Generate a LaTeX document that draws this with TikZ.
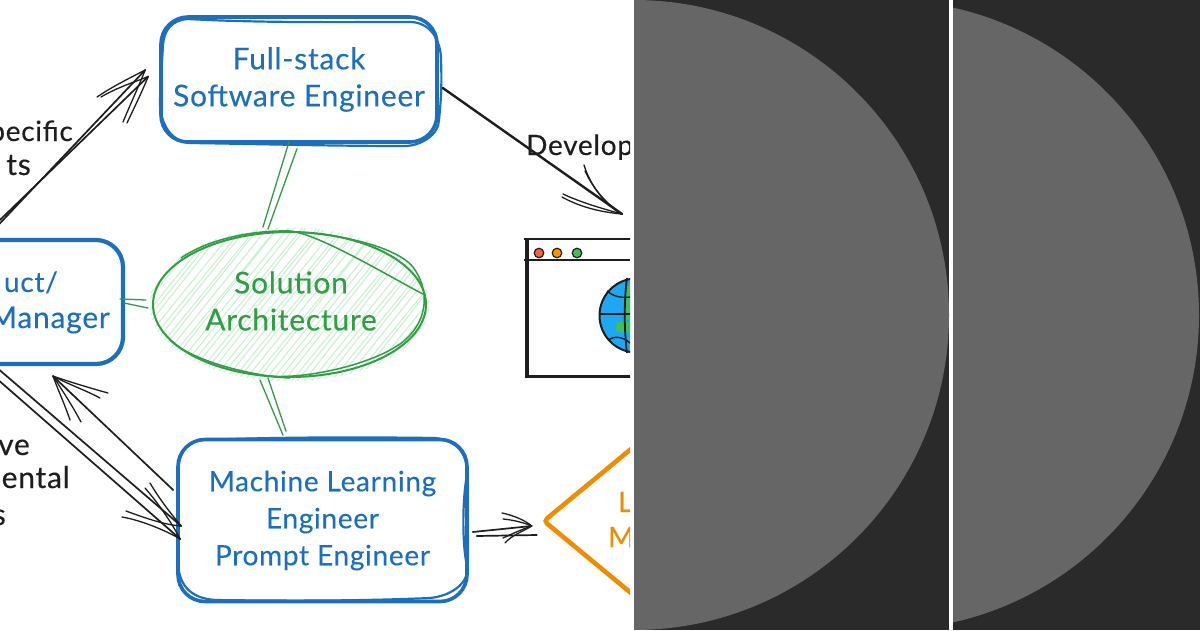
\documentclass[tikz,border=0pt]{standalone}
\usepackage{fontspec}
\setmainfont{Lato}[LetterSpace=2.5,FakeBold=0.25]
\usetikzlibrary{shapes.geometric}
\definecolor{ebl}{HTML}{1C6FBF}
\definecolor{egr}{HTML}{2F9E44}
\definecolor{eor}{HTML}{F08C00}
\definecolor{eink}{HTML}{1E1E1E}
\definecolor{hatch}{HTML}{C6F0CC}
\definecolor{paneldark}{HTML}{2A2A2A}
\definecolor{panelgray}{HTML}{666666}
\definecolor{globeblue}{HTML}{1CA8F5}
\definecolor{globegreen}{HTML}{40C057}
\tikzset{
  x=1pt,y=-1pt,
  handtext/.style={font=\fontsize{28}{37}\selectfont,inner sep=0pt},
  bigtext/.style={font=\fontsize{30}{37}\selectfont,inner sep=0pt},
  bluebox/.style={draw=ebl,line width=3.6pt,rounded corners=27pt,inner sep=0pt,text=ebl,align=center,handtext},
  bluesketch/.style={draw=ebl,line width=2.2pt},
  greensketch/.style={draw=egr,line width=1.5pt},
  ink/.style={draw=eink,line width=1.7pt,line cap=round},
  barb/.style={draw=eink,line width=1.3pt,line cap=round},
  link/.style={draw=egr,line width=1.3pt,line cap=round},
  lbl/.style={bigtext,text=eink,anchor=base east},
  dotmark/.style={draw=eink,line width=1.2pt},
}
\begin{document}
\begin{tikzpicture}
\useasboundingbox (0,0) rectangle (1200,630);
\fill[white] (0,0) rectangle (1200,630);
\begin{scope}
\clip (0,0) rectangle (630,630);
% hachure
\begin{scope}
\clip (289.5,304.5) ellipse [x radius=140,y radius=77];
\foreach \i/\j in {60/0,67/3,73/-2,80/2,86/0,93/-3,100/1,106/3,113/-1,120/2,126/-2,133/0,140/3,146/-3,153/1,160/0,166/2,173/-2,180/3,186/0,193/-3,200/1,206/3,213/-1,220/2,226/-2,233/0,240/3,246/-3,253/1,260/0,266/2,273/-2,280/3,286/0,293/-3,300/1,306/3,313/-1,320/2,326/-2,333/0,340/3,346/-3,353/1,360/0,366/2,373/-2,380/3,386/0,393/-3,400/1,406/3,413/-1,420/2,426/-2}{
  \draw[hatch,line width=1pt] (\i,395) -- ({\i+145+\j},215);
}
\end{scope}
% nodes
\node[bluebox,bigtext,minimum width=276pt,minimum height=125pt] (fs) at (299,79.5) {Full-stack\\Software Engineer};
\node[bluebox,draw,minimum width=223pt,minimum height=124pt,line width=4.2pt] (pm) at (11.5,302) {};
\node[ellipse,draw=egr,line width=2pt,minimum width=273pt,minimum height=145pt,inner sep=0pt] (sol) at (289.5,304.5) {};
\node[text=egr,align=center,bigtext] (solt) at (291,301) {Solution\\Architecture};
\node[bluebox,minimum width=289pt,minimum height=162pt] (ml) at (322.5,520.5) {Machine Learning\\Engineer\\Prompt Engineer};
\node[diamond,draw=eor,line width=4.6pt,rounded corners=4pt,minimum width=314pt,minimum height=260pt,inner sep=0pt] (llm) at (700,521) {};
\node[draw=eink,line width=2pt,minimum width=214pt,minimum height=138pt,inner sep=0pt] (win) at (633,307.5) {};
% second sketch strokes
\draw[bluesketch] (188,19) .. controls (260,23) and (340,22) .. (410,22) .. controls (430,22) and (441,40) .. (441,60) .. controls (442,85) and (441,100) .. (439,120) .. controls (439,135) and (420,146) .. (405,146) .. controls (330,146) and (260,144) .. (190,143) .. controls (172,142) and (161,125) .. (160,105) .. controls (160,85) and (162,65) .. (163,45) .. controls (164,30) and (172,20) .. (188,19);
\draw[bluesketch] (200,440) .. controls (280,437) and (360,437) .. (435,438) .. controls (455,440) and (468,452) .. (467,475) .. controls (462,500) and (462,550) .. (468,570) .. controls (466,585) and (450,596) .. (430,598) .. controls (360,601) and (290,601) .. (215,600) .. controls (190,598) and (178,585) .. (178,560) .. controls (177,530) and (177,500) .. (178,475) .. controls (178,455) and (185,443) .. (200,440);
\draw[greensketch] (181,258) .. controls (210,238) and (255,230) .. (290,231) .. controls (320,234) and (395,280) .. (425,295);
\draw[greensketch] (288,232) .. controls (330,232) and (395,245) .. (413,267) .. controls (430,290) and (428,320) .. (405,340) .. controls (380,362) and (310,380) .. (265,376);
\draw[greensketch] (290,378) .. controls (250,376) and (190,360) .. (170,340);
% browser details
\draw[eink,line width=1.4pt] (524,239) -- (630,239);
\draw[eink,line width=1.6pt] (524,260) -- (630,260);
\draw[eink,line width=1.4pt] (528,238) -- (528,376);
\draw[eink,line width=2.6pt] (525,376) -- (630,376);
\node[circle,dotmark,fill=red!55!orange!80!white,minimum size=9.5pt,inner sep=0pt] (d1) at (539,253) {};
\node[circle,dotmark,fill=orange!85!yellow,minimum size=9.5pt,inner sep=0pt] (d2) at (557,253) {};
\node[circle,dotmark,fill=globegreen,minimum size=9.5pt,inner sep=0pt] (d3) at (577,253) {};
% globe
\fill[globeblue] (636.5,315.5) circle (37);
\fill[globegreen,rounded corners=3pt] (616,322) rectangle (640,332);
\fill[globegreen] (626,286) rectangle (640,320);
\draw[eink,line width=2pt] (636.5,315.5) circle (37);
\draw[eink,line width=1.8pt] (600,314) -- (630,314);
\draw[eink,line width=1.8pt] (627,278) .. controls (624,300) and (624,330) .. (627,353);
\draw[eink,line width=1.4pt] (607,291) .. controls (614,297) and (622,298) .. (630,297);
\draw[eink,line width=1.4pt] (608,340) .. controls (614,336) and (622,336) .. (630,343);
% labels
\node[handtext,text=ebl,anchor=base east] (pmt1) at (58,292) {uct/};
\node[bigtext,text=ebl,anchor=base east] (pmt2) at (110,328) {Manager};
\node[lbl,handtext] (t1) at (73,141) {pecific};
\node[lbl] (t2) at (31,175) {ts};
\node[lbl] (t3) at (30,455) {ve};
\node[lbl] (t4) at (70,488) {ental};
\node[lbl] (t5) at (6,525) {s};
\node[handtext,text=eink,anchor=base west] (t6) at (526,155) {Develop};
\node[handtext,text=eor,anchor=base west] (t7) at (618,512) {L};
\node[handtext,text=eor,anchor=base west] (t8) at (608,547) {M};
% connector ends
\coordinate (fsinA) at ([shift={(-14,-9.5)}]fs.west);
\coordinate (fsinB) at ([shift={(-11,-3)}]fs.west);
\coordinate (pmoutA) at ([shift={(-14,-12)}]pm.north);
\coordinate (pmoutB) at ([shift={(-11.5,-18)}]pm.north);
\coordinate (wintip) at ([shift={(-11,-23.5)}]win.north);
\coordinate (mlinA) at ([shift={(5,5.5)}]ml.west);
\coordinate (mlinB) at ([shift={(4,18.5)}]ml.west);
\coordinate (pmin) at ([shift={(41.5,10)}]pm.south);
\coordinate (llminA) at ([shift={(-9,5)}]llm.west);
\coordinate (llminB) at ([shift={(-4,14)}]llm.west);
% black connectors
\draw[ink] (pmoutA) -- (fsinA);
\draw[ink] (pmoutB) -- (fsinB);
\draw[barb] (97,97) .. controls (115,85) and (130,78) .. (fsinA);
\draw[barb] (101,97) .. controls (118,87) and (135,82) .. (fsinB);
\draw[barb] (123,122) .. controls (130,105) and (138,88) .. (fsinA);
\draw[barb] (127,123) .. controls (134,108) and (142,92) .. (fsinB);
\draw[ink,line width=2.4pt] ([shift={(4,8.5)}]fs.east) -- (wintip);
\draw[barb] (584,165) .. controls (590,185) and (605,205) .. (wintip);
\draw[barb] (585,171) .. controls (593,188) and (605,203) .. (wintip);
\draw[barb] (562,197) .. controls (580,207) and (600,212) .. (wintip);
\draw[barb] (563,194) .. controls (580,202) and (600,208) .. (wintip);
\draw[ink] ([shift={(-16.5,0)}]pm.south) -- (mlinA);
\draw[ink] ([shift={(-16.5,11)}]pm.south) -- (mlinB);
\draw[barb] (150,483) .. controls (160,500) and (172,515) .. (mlinA);
\draw[barb] (145,488) .. controls (158,503) and (170,520) .. (mlinB);
\draw[barb] (122,517) .. controls (140,520) and (165,530) .. (mlinB);
\draw[barb] (126,511) .. controls (145,518) and (165,525) .. (mlinA);
\draw[ink] ([shift={(-3,-30.5)}]ml.west) -- (pmin);
\draw[barb] (108,393) .. controls (90,388) and (70,382) .. (pmin);
\draw[barb] (100,398) .. controls (85,390) and (70,385) .. (pmin);
\draw[barb] (70,420) .. controls (65,405) and (58,390) .. (pmin);
\draw[barb] (81,422) .. controls (72,405) and (62,390) .. (pmin);
\draw[ink] ([shift={(4,11.5)}]ml.east) -- (llminA);
\draw[ink] ([shift={(8,15.5)}]ml.east) -- (llminB);
\draw[barb] (502,513) .. controls (512,515) and (525,520) .. (llminA);
\draw[barb] (503,519) .. controls (514,520) and (525,523) .. (llminA);
\draw[barb] (505,543) .. controls (512,535) and (522,532) .. (llminA);
\draw[barb] (503,538) .. controls (512,534) and (520,530) .. (llminA);
% green links
\draw[link] ([shift={(-10,-2)}]fs.south) -- ([shift={(-26.5,-4)}]sol.north);
\draw[link] ([shift={(-2,5)}]fs.south) -- ([shift={(-21.5,-2)}]sol.north);
\draw[link] ([shift={(-5,-3)}]pm.east) -- ([shift={(-6,-4.5)}]sol.west);
\draw[link] ([shift={(-1,1)}]pm.east) -- ([shift={(-4,3.5)}]sol.west);
\draw[link] ([shift={(-29.5,2)}]sol.south) -- ([shift={(-39.5,-2.5)}]ml.north);
\draw[link] ([shift={(-21.5,0)}]sol.south) -- ([shift={(-36.5,-6.5)}]ml.north);
\end{scope}
% dark panels
\fill[paneldark] (634,0) rectangle (949,630);
\begin{scope}
\clip (634,0) rectangle (949,630);
\fill[panelgray] (634,315) circle (315);
\end{scope}
\fill[paneldark] (953,0) rectangle (1200,630);
\begin{scope}
\clip (953,0) rectangle (1200,630);
\fill[panelgray] (884,315) circle (315);
\end{scope}
\end{tikzpicture}
\end{document}
